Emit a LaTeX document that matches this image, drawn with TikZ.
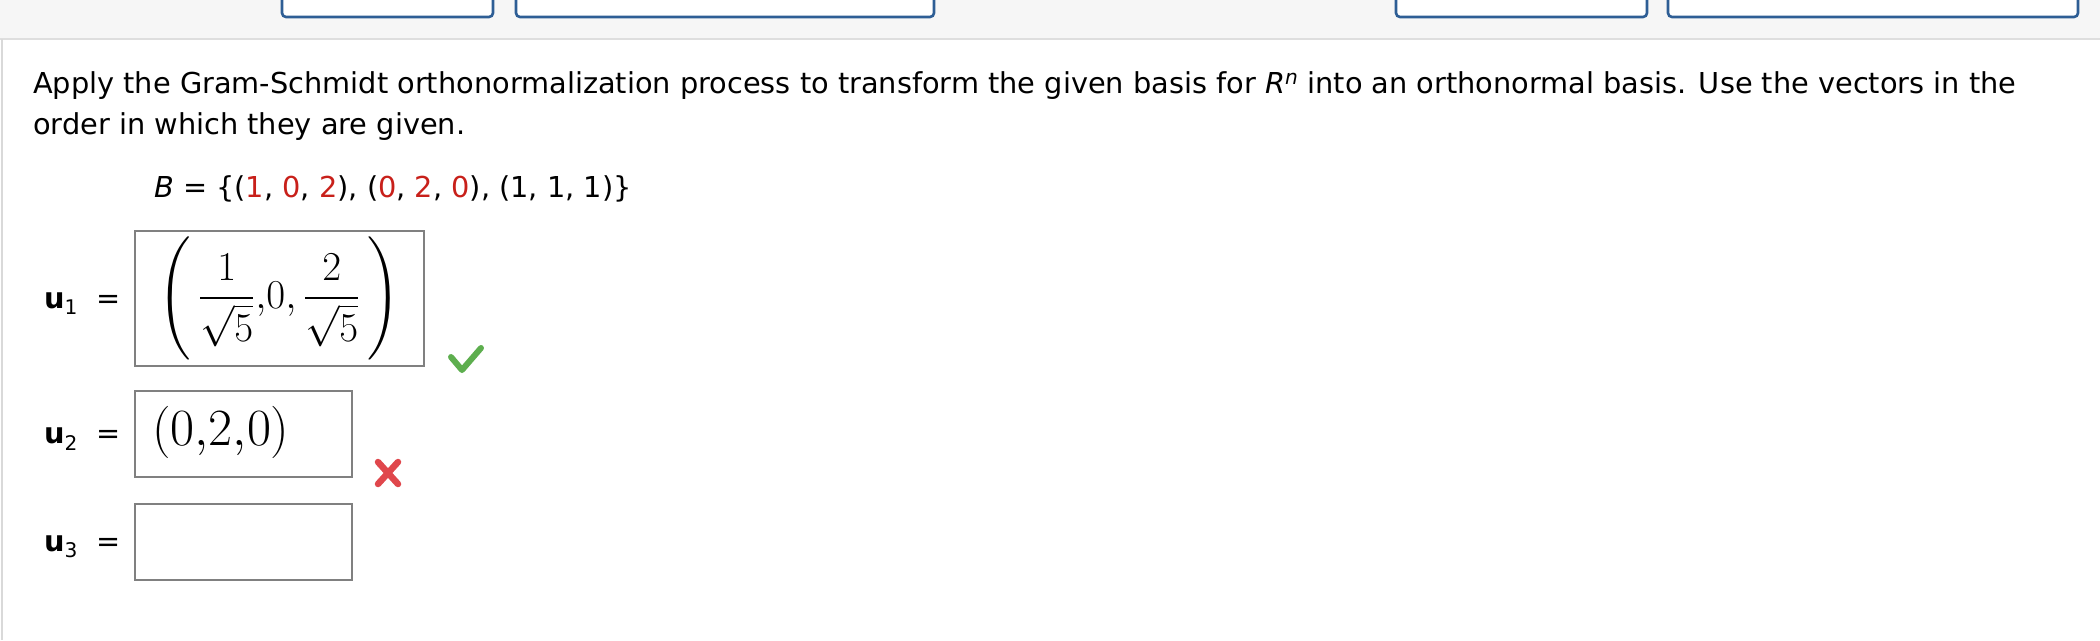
\documentclass[tikz,border=0pt]{standalone}
\usepackage{fontspec}
\usepackage{amsmath}
\usepackage{graphicx}
\setmainfont{DejaVu Sans}
\definecolor{tabblue}{HTML}{2E5E95}
\definecolor{bandgray}{HTML}{F6F6F6}
\definecolor{boxgray}{HTML}{808080}
\definecolor{numred}{HTML}{C8201A}
\definecolor{okgreen}{HTML}{5DAE4E}
\definecolor{badred}{HTML}{E0474C}
\tikzset{
  tab/.style={draw=tabblue, line width=2.6pt, fill=white, rounded corners=4pt},
  ansbox/.style={draw=boxgray, line width=1.6pt, fill=white},
  body/.style={anchor=west, inner sep=0pt, font=\fontsize{28.8}{32}\selectfont},
  lbl/.style={anchor=west, inner sep=0pt, font=\fontsize{28.8}{32}\selectfont}
}
\begin{document}
\begin{tikzpicture}[x=1pt,y=1pt]
\useasboundingbox (0,0) rectangle (2100,-640);
\fill[bandgray] (0,0) rectangle (2100,-39);
\draw[line width=2.5pt, draw=black!13] (0,-39) -- (2100,-39);
\draw[line width=1.5pt, draw=black!15] (2,-39) -- (2,-640);
% tabs
\draw[tab] (282,10) rectangle (493,-17);
\draw[tab] (516,10) rectangle (934,-17);
\draw[tab] (1396,10) rectangle (1647,-17);
\draw[tab] (1668,10) rectangle (2078,-17);
% text
\node[body] (l1) at (33,-86) {Apply the Gram-Schmidt orthonormalization process to transform the given basis for \textit{R}\textsuperscript{\textit{n}} into an orthonormal basis. Use the vectors in the};
\node[body] (l2) at (33,-127) {order in which they are given.};
\node[body] (b) at (154,-189) {\textit{B} = \{(\textcolor{numred}{1}, \textcolor{numred}{0}, \textcolor{numred}{2}), (\textcolor{numred}{0}, \textcolor{numred}{2}, \textcolor{numred}{0}), (1, 1, 1)\}};
% answer boxes
\node[ansbox, anchor=north west, minimum width=289pt, minimum height=135pt, inner sep=0pt] (a1) at (134,-230)
 {\scalebox{1.65}{\fontsize{24.88}{30}\selectfont$\displaystyle\Biggl(\,\frac{1}{\sqrt{5}}{,}0{,}\,\frac{2}{\sqrt{5}}\,\Biggr)$}};
\node[ansbox, anchor=north west, minimum width=217pt, minimum height=86pt] (a2) at (134,-390) {};
\node[anchor=west, inner sep=0pt] (v2) at (152,-432) {\scalebox{2.1}{\fontsize{24.88}{30}\selectfont$(0{,}2{,}0)$}};
\node[ansbox, anchor=north west, minimum width=217pt, minimum height=76pt] (a3) at (134,-503) {};
% labels
\node[lbl] (u1) at (44,-304) {\textbf{u}\textsubscript{1} \ =};
\node[lbl] (u2) at (44,-439) {\textbf{u}\textsubscript{2} \ =};
\node[lbl] (u3) at (44,-547) {\textbf{u}\textsubscript{3} \ =};
% check mark
\draw[okgreen, line width=6pt, line cap=round, line join=round] (451,-357) -- (462,-370) -- (481,-348);
% cross
\draw[badred, line width=6.5pt, line cap=round] (378,-462) -- (398,-484) (398,-462) -- (378,-484);
\end{tikzpicture}
\end{document}
